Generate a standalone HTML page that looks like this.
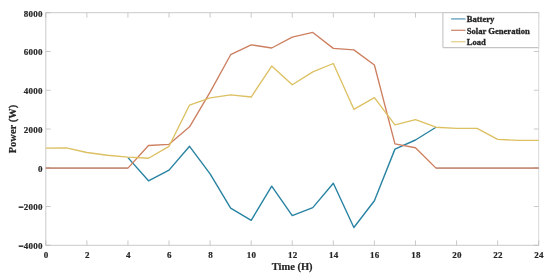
<!DOCTYPE html>
<html><head><meta charset="utf-8"><style>
html,body{margin:0;padding:0;background:#fff;}
svg{display:block;}
text{font-family:"Liberation Serif","Times New Roman",serif;font-weight:bold;fill:#262626;stroke:#262626;stroke-width:0.2px;}
.t{font-size:9.0px;letter-spacing:0.25px;}
.lg{font-size:8.6px;stroke-width:0.3px;}
.al{font-size:10.5px;}
</style></head><body>
<svg width="550" height="275" viewBox="0 0 550 275">
<rect width="550" height="275" fill="#fff"/>
<line x1="45.8" y1="12.7" x2="538.7" y2="12.7" stroke="#bcbcbc" stroke-width="0.8"/>
<line x1="45.8" y1="245.3" x2="538.7" y2="245.3" stroke="#bcbcbc" stroke-width="0.8"/>
<line x1="45.8" y1="12.299999999999999" x2="45.8" y2="245.70000000000002" stroke="#bcbcbc" stroke-width="0.8"/>
<line x1="538.7" y1="12.299999999999999" x2="538.7" y2="245.70000000000002" stroke="#d6d6d6" stroke-width="0.9"/>
<line x1="45.80" y1="245.3" x2="45.80" y2="240.4" stroke="#bcbcbc" stroke-width="0.8"/>
<line x1="45.80" y1="12.7" x2="45.80" y2="17.6" stroke="#bcbcbc" stroke-width="0.8"/>
<text class="t" x="46.22" y="258" text-anchor="middle">0</text>
<line x1="86.88" y1="245.3" x2="86.88" y2="240.4" stroke="#bcbcbc" stroke-width="0.8"/>
<line x1="86.88" y1="12.7" x2="86.88" y2="17.6" stroke="#bcbcbc" stroke-width="0.8"/>
<text class="t" x="87.30" y="258" text-anchor="middle">2</text>
<line x1="127.95" y1="245.3" x2="127.95" y2="240.4" stroke="#bcbcbc" stroke-width="0.8"/>
<line x1="127.95" y1="12.7" x2="127.95" y2="17.6" stroke="#bcbcbc" stroke-width="0.8"/>
<text class="t" x="128.38" y="258" text-anchor="middle">4</text>
<line x1="169.03" y1="245.3" x2="169.03" y2="240.4" stroke="#bcbcbc" stroke-width="0.8"/>
<line x1="169.03" y1="12.7" x2="169.03" y2="17.6" stroke="#bcbcbc" stroke-width="0.8"/>
<text class="t" x="169.45" y="258" text-anchor="middle">6</text>
<line x1="210.10" y1="245.3" x2="210.10" y2="240.4" stroke="#bcbcbc" stroke-width="0.8"/>
<line x1="210.10" y1="12.7" x2="210.10" y2="17.6" stroke="#bcbcbc" stroke-width="0.8"/>
<text class="t" x="210.53" y="258" text-anchor="middle">8</text>
<line x1="251.18" y1="245.3" x2="251.18" y2="240.4" stroke="#bcbcbc" stroke-width="0.8"/>
<line x1="251.18" y1="12.7" x2="251.18" y2="17.6" stroke="#bcbcbc" stroke-width="0.8"/>
<text class="t" x="251.60" y="258" text-anchor="middle">10</text>
<line x1="292.25" y1="245.3" x2="292.25" y2="240.4" stroke="#bcbcbc" stroke-width="0.8"/>
<line x1="292.25" y1="12.7" x2="292.25" y2="17.6" stroke="#bcbcbc" stroke-width="0.8"/>
<text class="t" x="292.68" y="258" text-anchor="middle">12</text>
<line x1="333.33" y1="245.3" x2="333.33" y2="240.4" stroke="#bcbcbc" stroke-width="0.8"/>
<line x1="333.33" y1="12.7" x2="333.33" y2="17.6" stroke="#bcbcbc" stroke-width="0.8"/>
<text class="t" x="333.75" y="258" text-anchor="middle">14</text>
<line x1="374.40" y1="245.3" x2="374.40" y2="240.4" stroke="#bcbcbc" stroke-width="0.8"/>
<line x1="374.40" y1="12.7" x2="374.40" y2="17.6" stroke="#bcbcbc" stroke-width="0.8"/>
<text class="t" x="374.83" y="258" text-anchor="middle">16</text>
<line x1="415.48" y1="245.3" x2="415.48" y2="240.4" stroke="#bcbcbc" stroke-width="0.8"/>
<line x1="415.48" y1="12.7" x2="415.48" y2="17.6" stroke="#bcbcbc" stroke-width="0.8"/>
<text class="t" x="415.90" y="258" text-anchor="middle">18</text>
<line x1="456.55" y1="245.3" x2="456.55" y2="240.4" stroke="#bcbcbc" stroke-width="0.8"/>
<line x1="456.55" y1="12.7" x2="456.55" y2="17.6" stroke="#bcbcbc" stroke-width="0.8"/>
<text class="t" x="456.98" y="258" text-anchor="middle">20</text>
<line x1="497.63" y1="245.3" x2="497.63" y2="240.4" stroke="#bcbcbc" stroke-width="0.8"/>
<line x1="497.63" y1="12.7" x2="497.63" y2="17.6" stroke="#bcbcbc" stroke-width="0.8"/>
<text class="t" x="498.05" y="258" text-anchor="middle">22</text>
<line x1="538.70" y1="245.3" x2="538.70" y2="240.4" stroke="#bcbcbc" stroke-width="0.8"/>
<line x1="538.70" y1="12.7" x2="538.70" y2="17.6" stroke="#bcbcbc" stroke-width="0.8"/>
<text class="t" x="539.12" y="258" text-anchor="middle">24</text>
<line x1="45.8" y1="245.30" x2="50.699999999999996" y2="245.30" stroke="#bcbcbc" stroke-width="0.8"/>
<line x1="538.7" y1="245.30" x2="533.8000000000001" y2="245.30" stroke="#bcbcbc" stroke-width="0.8"/>
<text class="t" x="42.75" y="249" text-anchor="end"><tspan style="stroke-width:0.6px" dy="0">&#8722;</tspan><tspan dy="0">4000</tspan></text>
<line x1="45.8" y1="206.53" x2="50.699999999999996" y2="206.53" stroke="#bcbcbc" stroke-width="0.8"/>
<line x1="538.7" y1="206.53" x2="533.8000000000001" y2="206.53" stroke="#bcbcbc" stroke-width="0.8"/>
<text class="t" x="42.75" y="210" text-anchor="end"><tspan style="stroke-width:0.6px" dy="0">&#8722;</tspan><tspan dy="0">2000</tspan></text>
<line x1="45.8" y1="167.77" x2="50.699999999999996" y2="167.77" stroke="#bcbcbc" stroke-width="0.8"/>
<line x1="538.7" y1="167.77" x2="533.8000000000001" y2="167.77" stroke="#bcbcbc" stroke-width="0.8"/>
<text class="t" x="42.75" y="172" text-anchor="end">0</text>
<line x1="45.8" y1="129.00" x2="50.699999999999996" y2="129.00" stroke="#bcbcbc" stroke-width="0.8"/>
<line x1="538.7" y1="129.00" x2="533.8000000000001" y2="129.00" stroke="#bcbcbc" stroke-width="0.8"/>
<text class="t" x="42.75" y="133" text-anchor="end">2000</text>
<line x1="45.8" y1="90.23" x2="50.699999999999996" y2="90.23" stroke="#bcbcbc" stroke-width="0.8"/>
<line x1="538.7" y1="90.23" x2="533.8000000000001" y2="90.23" stroke="#bcbcbc" stroke-width="0.8"/>
<text class="t" x="42.75" y="94" text-anchor="end">4000</text>
<line x1="45.8" y1="51.47" x2="50.699999999999996" y2="51.47" stroke="#bcbcbc" stroke-width="0.8"/>
<line x1="538.7" y1="51.47" x2="533.8000000000001" y2="51.47" stroke="#bcbcbc" stroke-width="0.8"/>
<text class="t" x="42.75" y="55" text-anchor="end">6000</text>
<line x1="45.8" y1="12.70" x2="50.699999999999996" y2="12.70" stroke="#bcbcbc" stroke-width="0.8"/>
<line x1="538.7" y1="12.70" x2="533.8000000000001" y2="12.70" stroke="#bcbcbc" stroke-width="0.8"/>
<text class="t" x="42.75" y="17" text-anchor="end">8000</text>
<polyline points="127.95,157.65 148.49,180.83 169.03,170.11 189.56,146.33 210.10,173.82 230.64,208.20 251.18,220.34 271.71,186.12 292.25,215.63 312.79,207.60 333.33,183.27 353.86,227.55 374.40,200.72 394.94,149.12 415.48,140.01 436.01,127.22" fill="none" stroke="#2883a2" stroke-width="1.4" stroke-linejoin="round"/>
<polyline points="45.80,168.12 66.34,168.12 86.88,168.12 107.41,168.12 127.95,168.12 148.49,145.52 169.03,144.31 189.56,126.81 210.10,92.11 230.64,54.72 251.18,44.80 271.71,48.02 292.25,37.20 312.79,32.43 333.33,48.35 353.86,49.86 374.40,65.02 394.94,143.89 415.48,147.76 436.01,168.12 456.55,168.12 477.09,168.12 497.63,168.12 518.16,168.12 538.70,168.12" fill="none" stroke="#cd7f60" stroke-width="1.35" stroke-linejoin="round"/>
<polyline points="45.80,168.12 127.95,168.12" fill="none" stroke="#bd8e7b" stroke-width="1.35" stroke-linecap="butt"/>
<polyline points="436.01,168.12 538.70,168.12" fill="none" stroke="#bd8e7b" stroke-width="1.35" stroke-linecap="butt"/>
<polyline points="45.80,148.15 66.34,147.86 86.88,152.49 107.41,155.28 127.95,157.17 148.49,158.23 169.03,146.31 189.56,105.02 210.10,97.81 230.64,94.81 251.18,97.02 271.71,66.02 292.25,84.71 312.79,71.92 333.33,63.50 353.86,109.29 374.40,97.62 394.94,124.89 415.48,119.66 436.01,127.22 456.55,128.32 477.09,128.32 497.63,139.41 518.16,140.32 538.70,140.32" fill="none" stroke="#dcc062" stroke-width="1.35" stroke-linejoin="round"/>
<rect x="442.9" y="12.7" width="95.80" height="34.90" fill="#fff" stroke="none"/>
<line x1="442.9" y1="12.7" x2="538.7" y2="12.7" stroke="#bcbcbc" stroke-width="0.8"/>
<line x1="442.9" y1="47.6" x2="538.7" y2="47.6" stroke="#c4c4c4" stroke-width="1.1"/>
<line x1="442.9" y1="12.7" x2="442.9" y2="47.6" stroke="#c4c4c4" stroke-width="1.1"/>
<line x1="538.7" y1="12.7" x2="538.7" y2="47.6" stroke="#d6d6d6" stroke-width="0.9"/>
<line x1="451.1" y1="18.9" x2="465.6" y2="18.9" stroke="#6aa6c0" stroke-width="1.4"/>
<text class="lg" x="466.7" y="22">Battery</text>
<line x1="451.1" y1="30.3" x2="465.6" y2="30.3" stroke="#d0927a" stroke-width="1.35"/>
<text class="lg" x="466.7" y="34">Solar Generation</text>
<line x1="451.1" y1="41.7" x2="465.6" y2="41.7" stroke="#e4d496" stroke-width="1.35"/>
<text class="lg" x="466.7" y="45">Load</text>
<text class="al" x="292.15" y="270" text-anchor="middle">Time (H)</text>
<text class="al" transform="translate(16.2,129.05) rotate(-90)" text-anchor="middle">Power (W)</text>
</svg>
</body></html>
